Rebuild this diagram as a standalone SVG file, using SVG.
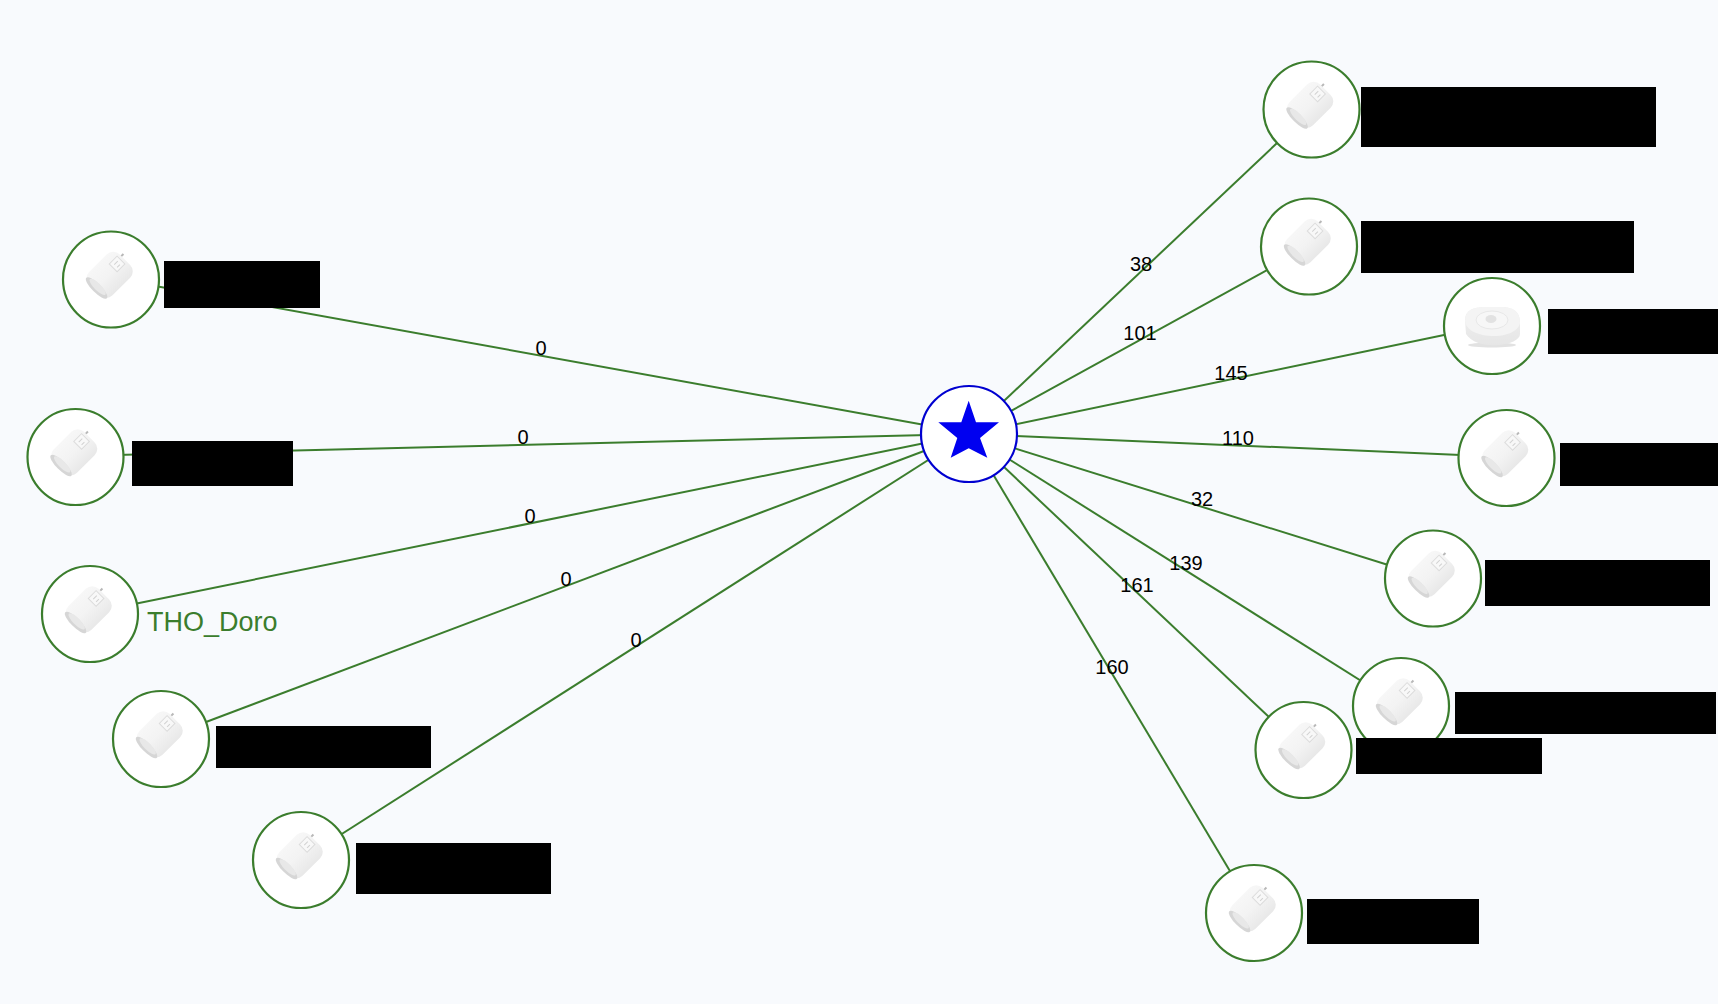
<svg xmlns="http://www.w3.org/2000/svg" width="1718" height="1004" viewBox="0 0 1718 1004">
<style>
.edge{stroke:#3b7d2d;stroke-width:2;fill:none}
.disc{fill:#fff;stroke:#3b7d2d;stroke-width:2.2}
.hubdisc{fill:#fff;stroke:#0000d0;stroke-width:2.2}
.mask{fill:#000}
.elabel{font-family:"Liberation Sans",Arial,sans-serif;font-size:20px;fill:#000;text-anchor:middle}
.nlabel{font-family:"Liberation Sans",Arial,sans-serif;font-size:27px;fill:#3b7d2d}
</style>
<defs>
<linearGradient id="bodyG" x1="0" y1="0" x2="0" y2="1">
<stop offset="0" stop-color="#f7f7f7"/><stop offset="0.5" stop-color="#f3f3f3"/><stop offset="1" stop-color="#e8e8e8"/>
</linearGradient>
<linearGradient id="hubG" x1="0" y1="0" x2="0" y2="1">
<stop offset="0" stop-color="#f0f0f0"/><stop offset="1" stop-color="#e6e6e6"/>
</linearGradient>
<filter id="soft" x="-20%" y="-20%" width="140%" height="140%"><feGaussianBlur stdDeviation="0.7"/></filter>
<g id="thermo" filter="url(#soft)">
<g transform="translate(-1,-5) rotate(-45)">
<rect x="-22" y="-16.500" width="43" height="33" rx="9" fill="url(#bodyG)"/>
<ellipse cx="-19" cy="0" rx="4.500" ry="14.500" fill="#d6d6d6"/>
<ellipse cx="-17.500" cy="0" rx="3.500" ry="11" fill="#e8e8e8"/>
<rect x="7" y="-8" width="11" height="11" fill="#f8f8f8" stroke="#dcdcdc" stroke-width="1"/>
<path d="M10 -4h5M10 0h4" stroke="#d2d2d2" stroke-width="1" fill="none"/>
<rect x="21" y="-6" width="3" height="2" fill="#b8b8b8"/>
</g>
</g>
<g id="hubicon" filter="url(#soft)">
<ellipse cx="0" cy="19" rx="24" ry="2.500" fill="#e2e2e2"/>
<path d="M-27 -6C-27 -16-18 -19-8 -19H10C21 -19 28 -14 28 -4V8C28 14 18 18 6 19C-8 20-20 17-26 8Z" fill="url(#hubG)"/>
<path d="M-27 -6C-27 -16-18 -19-8 -19H10C21 -19 28 -14 28 -4C28 4 16 10 2 10C-14 10-27 4-27 -6Z" fill="#f4f4f4"/>
<ellipse cx="0" cy="-6" rx="16" ry="9" fill="#f7f7f7" stroke="#e8e8e8" stroke-width="1"/>
<ellipse cx="-1" cy="-7" rx="5.500" ry="4" fill="#e2e2e2"/>
</g>
</defs>
<rect width="1718" height="1004" fill="#f8fafd"/>
<g id="connectors">
<line class="edge" x1="969" y1="434" x2="1312" y2="110"/>
<line class="edge" x1="969" y1="434" x2="1309" y2="247"/>
<line class="edge" x1="969" y1="434" x2="1492" y2="325"/>
<line class="edge" x1="969" y1="434" x2="1507" y2="457"/>
<line class="edge" x1="969" y1="434" x2="1433" y2="579"/>
<line class="edge" x1="969" y1="434" x2="1401" y2="706"/>
<line class="edge" x1="969" y1="434" x2="1304" y2="750"/>
<line class="edge" x1="969" y1="434" x2="1255" y2="913"/>
<line class="edge" x1="969" y1="433" x2="111" y2="278"/>
<line class="edge" x1="969" y1="434" x2="76" y2="456"/>
<line class="edge" x1="969" y1="434" x2="90" y2="613"/>
<line class="edge" x1="969" y1="434" x2="161" y2="739"/>
<line class="edge" x1="969" y1="434" x2="301" y2="860"/>
<text class="elabel" x="1141" y="271">38</text>
<text class="elabel" x="1140" y="339.500">101</text>
<text class="elabel" x="1231" y="379.500">145</text>
<text class="elabel" x="1238" y="445">110</text>
<text class="elabel" x="1202" y="505.500">32</text>
<text class="elabel" x="1186" y="569.500">139</text>
<text class="elabel" x="1137" y="591.500">161</text>
<text class="elabel" x="1112" y="673.500">160</text>
<text class="elabel" x="541" y="355">0</text>
<text class="elabel" x="523" y="444">0</text>
<text class="elabel" x="530" y="523">0</text>
<text class="elabel" x="566" y="585.500">0</text>
<text class="elabel" x="636" y="646.500">0</text>
</g>
<g id="center"><circle class="hubdisc" cx="969" cy="434" r="48"/><polygon fill="#0000f0" points="968.7,400.7 976,422.3 999,422.3 980,438 987.3,457.7 968.7,448.3 950.7,457.7 957.3,438 938.3,422.3 961.3,422.3"/></g>
<g id="n1"><circle class="disc" cx="1311.500" cy="109.500" r="48"/><use href="#thermo" x="1311.500" y="109.500"/><rect class="mask" x="1361" y="87" width="295" height="60"/></g>
<g id="n2"><circle class="disc" cx="1309" cy="246.500" r="48"/><use href="#thermo" x="1309" y="246.500"/><rect class="mask" x="1361" y="221" width="273" height="52"/></g>
<g id="n3"><circle class="disc" cx="1492" cy="326" r="48"/><use href="#hubicon" x="1492" y="326"/><rect class="mask" x="1548" y="309" width="170" height="45"/></g>
<g id="n4"><circle class="disc" cx="1506.500" cy="458" r="48"/><use href="#thermo" x="1506.500" y="458"/><rect class="mask" x="1560" y="443" width="158" height="43"/></g>
<g id="n5"><circle class="disc" cx="1433" cy="578.500" r="48"/><use href="#thermo" x="1433" y="578.500"/><rect class="mask" x="1485" y="560" width="225" height="46"/></g>
<g id="n6"><circle class="disc" cx="1401" cy="706" r="48"/><use href="#thermo" x="1401" y="706"/><rect class="mask" x="1455" y="692" width="261" height="42"/></g>
<g id="n7"><circle class="disc" cx="1303.500" cy="750" r="48"/><use href="#thermo" x="1303.500" y="750"/><rect class="mask" x="1356" y="738" width="186" height="36"/></g>
<g id="n8"><circle class="disc" cx="1254" cy="913" r="48"/><use href="#thermo" x="1254" y="913"/><rect class="mask" x="1307" y="899" width="172" height="45"/></g>
<g id="n9"><circle class="disc" cx="111" cy="279.500" r="48"/><use href="#thermo" x="111" y="279.500"/><rect class="mask" x="164" y="261" width="156" height="47"/></g>
<g id="n10"><circle class="disc" cx="75.500" cy="457" r="48"/><use href="#thermo" x="75.500" y="457"/><rect class="mask" x="132" y="441" width="161" height="45"/></g>
<g id="n11"><circle class="disc" cx="90" cy="614" r="48"/><use href="#thermo" x="90" y="614"/><text class="nlabel" x="147" y="630.500">THO_Doro</text></g>
<g id="n12"><circle class="disc" cx="161" cy="739" r="48"/><use href="#thermo" x="161" y="739"/><rect class="mask" x="216" y="726" width="215" height="42"/></g>
<g id="n13"><circle class="disc" cx="301" cy="860" r="48"/><use href="#thermo" x="301" y="860"/><rect class="mask" x="356" y="843" width="195" height="51"/></g>
</svg>
